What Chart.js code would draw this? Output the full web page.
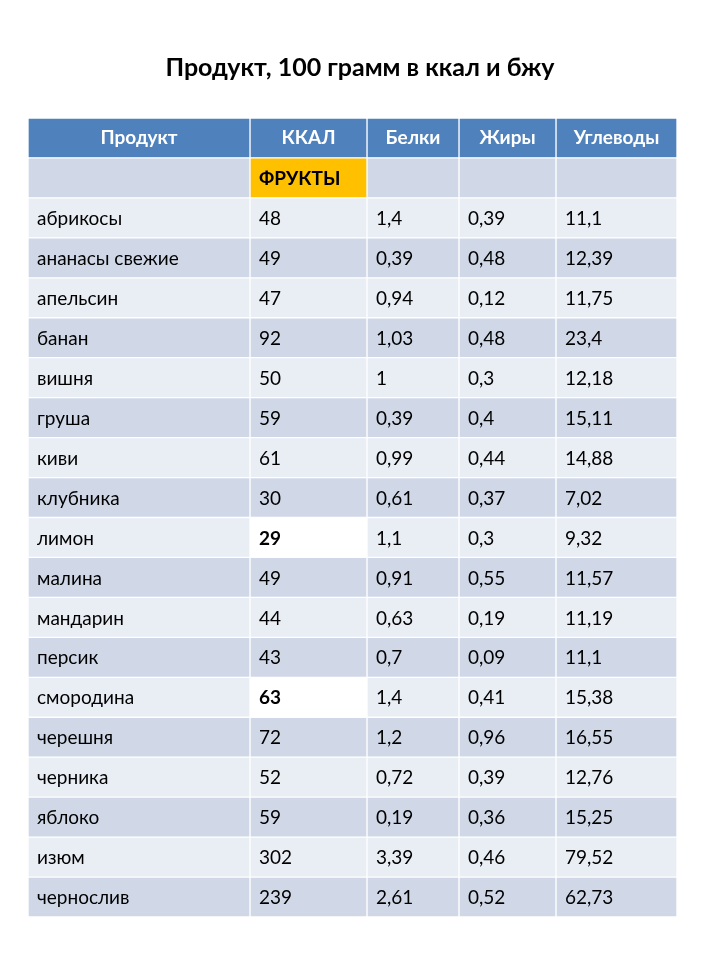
<!DOCTYPE html>
<html>
<head>
<meta charset="utf-8">
<script src="https://cdn.jsdelivr.net/npm/chart.js@4"></script>
<style>
  html, body { margin: 0; padding: 0; background: #fff; }
  #wrap { width: 720px; height: 960px; }
</style>
</head>
<body>
<div id="wrap"><canvas id="tbl" width="720" height="960"></canvas></div>
<script>
const title = 'Продукт, 100 грамм в ккал и бжу';
const headers = ['Продукт', 'ККАЛ', 'Белки', 'Жиры', 'Углеводы'];
const groupLabel = 'ФРУКТЫ';
const products = ['абрикосы', 'ананасы свежие', 'апельсин', 'банан', 'вишня', 'груша', 'киви', 'клубника',
  'лимон', 'малина', 'мандарин', 'персик', 'смородина', 'черешня', 'черника', 'яблоко', 'изюм', 'чернослив'];
const kcal = ['48', '49', '47', '92', '50', '59', '61', '30', '29', '49', '44', '43', '63', '72', '52', '59', '302', '239'];
const protein = ['1,4', '0,39', '0,94', '1,03', '1', '0,39', '0,99', '0,61', '1,1', '0,91', '0,63', '0,7', '1,4', '1,2', '0,72', '0,19', '3,39', '2,61'];
const fat = ['0,39', '0,48', '0,12', '0,48', '0,3', '0,4', '0,44', '0,37', '0,3', '0,55', '0,19', '0,09', '0,41', '0,96', '0,39', '0,36', '0,46', '0,52'];
const carbs = ['11,1', '12,39', '11,75', '23,4', '12,18', '15,11', '14,88', '7,02', '9,32', '11,57', '11,19', '11,1', '15,38', '16,55', '12,76', '15,25', '79,52', '62,73'];
const highlighted = ['лимон', 'смородина'];   // kcal cell shown white + bold

// column edges in table units (pixels wide)
const colEdges = [0, 222, 339, 431, 528, 649];

// rows: header, group row, then products
const rows = [headers, [' ', groupLabel, '', '', '']];
products.forEach((p, i) => rows.push([p, kcal[i], protein[i], fat[i], carbs[i]]));
const rowKeys = rows.map((r, i) => 'r' + i);

function cellColor(r, c) {
  if (r === 0) return '#4F81BD';
  if (r === 1 && c === 1) return '#FFC000';
  if (c === 1 && highlighted.includes(rows[r][0])) return '#FFFFFF';
  return r % 2 === 1 ? '#D0D8E8' : '#E9EDF4';
}

const datasets = headers.map((h, c) => ({
  label: h,
  data: rows.map(() => [colEdges[c], colEdges[c + 1]]),
  backgroundColor: rows.map((r, i) => cellColor(i, c)),
  borderColor: '#FFFFFF',
  borderWidth: 1,
  borderSkipped: false,
  barPercentage: 1,
  categoryPercentage: 1,
  grouped: false
}));

const textPlugin = {
  id: 'cellText',
  afterDraw(chart) {
    const ctx = chart.ctx;
    const xs = chart.scales.x, ys = chart.scales.y;
    ctx.save();
    ctx.textBaseline = 'middle';
    rows.forEach((row, r) => {
      const y = ys.getPixelForValue(r);
      row.forEach((txt, c) => {
        if (r === 0) {
          ctx.font = 'bold 19px Lato';
          ctx.fillStyle = '#FFFFFF';
          ctx.textAlign = 'center';
          ctx.fillText(txt, (xs.getPixelForValue(colEdges[c]) + xs.getPixelForValue(colEdges[c + 1])) / 2, y);
          return;
        }
        const bold = (r === 1 && c === 1) || (c === 1 && highlighted.includes(row[0]));
        ctx.font = (bold ? 'bold ' : '') + '19px Lato';
        ctx.fillStyle = '#000000';
        ctx.textAlign = 'left';
        ctx.fillText(txt, xs.getPixelForValue(colEdges[c]) + 9, y + 1);
      });
    });
    ctx.font = 'bold 25px Lato';
    ctx.textAlign = 'center';
    ctx.fillStyle = '#000000';
    ctx.fillText(title, 360, 68);
    ctx.restore();
  }
};

new Chart(document.getElementById('tbl'), {
  type: 'bar',
  data: { labels: rowKeys, datasets },
  options: {
    indexAxis: 'y',
    responsive: false,
    animation: false,
    layout: { padding: { left: 28, right: 43, top: 118, bottom: 43 } },
    scales: {
      x: { type: 'linear', min: 0, max: colEdges[colEdges.length - 1], display: false },
      y: { display: false }
    },
    plugins: { legend: { display: false }, tooltip: { enabled: false }, title: { display: false } }
  },
  plugins: [textPlugin]
});
</script>
</body>
</html>
